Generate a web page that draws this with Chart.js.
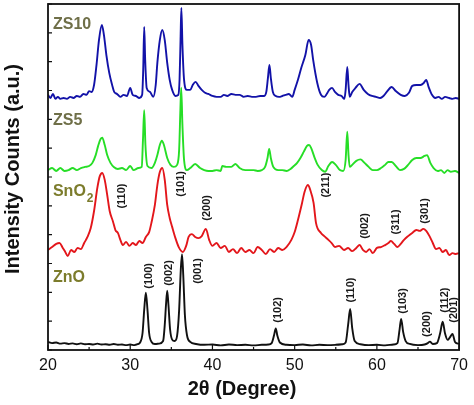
<!DOCTYPE html>
<html>
<head>
<meta charset="utf-8">
<script src="https://cdn.jsdelivr.net/npm/chart.js@4.4.1/dist/chart.umd.min.js"></script>
<style>
  html, body { margin: 0; padding: 0; background: #fff; }
  canvas { display: block; }
</style>
</head>
<body>
<canvas id="xrd" width="474" height="405"></canvas>
<script>
// XRD patterns, stacked (2theta in degrees, intensity in a.u. incl. offset)
const xTicks = [20, 30, 40, 50, 60, 70];
const xMinor = [25, 35, 45, 55, 65];
const yTicks = [0, 10, 20, 30, 40, 50, 60, 70, 80, 90, 100, 110, 120];

const zno = [[20,2.8],[20.5,2.4],[21,2.6],[21.5,2.2],[22,2.4],[22.5,2.1],[23,2.3],[23.5,2.0],[24,2.3],[24.5,2.0],[25,2.1],[25.5,1.9],[26,2.2],[26.5,1.9],[27,2.0],[27.5,1.8],[28,2.1],[28.5,1.8],[29,1.9],[29.5,1.7],[30,1.9],[30.5,1.7],[30.9,2.0],[31.2,2.6],[31.5,5.9],[31.7,13.9],[31.9,19.9],[32.1,13.9],[32.3,5.9],[32.6,2.8],[33,2.1],[33.5,2.2],[34.0,3.1],[34.2,8.7],[34.35,15.6],[34.5,20.6],[34.65,15.6],[34.85,7.1],[35.1,3.6],[35.4,3.1],[35.7,4.9],[35.95,13.9],[36.15,27.8],[36.3,33.2],[36.45,26.0],[36.65,12.1],[36.9,5.2],[37.3,2.8],[38,2.1],[39,1.8],[40,1.9],[41,1.6],[42,1.9],[43,1.7],[44,1.8],[45,1.6],[46,1.8],[46.8,1.9],[47.2,2.4],[47.5,5.2],[47.7,7.5],[47.9,4.9],[48.2,2.6],[49,1.8],[50,1.7],[51,1.9],[52,1.6],[53,1.8],[54,1.7],[55,1.8],[55.8,2.0],[56.2,2.6],[56.5,8.7],[56.75,14.2],[57.0,7.6],[57.3,3.1],[58,2.0],[59,1.7],[60,1.8],[61,1.6],[62,1.9],[62.5,2.4],[62.75,6.9],[62.95,10.8],[63.2,6.2],[63.5,3.1],[64,2.1],[65,1.7],[65.8,1.9],[66.2,2.4],[66.45,2.9],[66.8,2.1],[67.3,2.4],[67.7,5.9],[68.0,9.8],[68.3,5.6],[68.6,3.5],[68.9,4.5],[69.2,5.6],[69.5,2.8],[70,2.1]];

const sno2 = [[20,34.7],[20.5,35.7],[21,36.8],[21.4,37.1],[21.8,35.4],[22.1,34.0],[22.4,32.6],[22.8,34.7],[23.2,34.0],[23.6,35.4],[24.0,35.0],[24.4,37.1],[24.8,39.2],[25.2,42.3],[25.6,48.2],[26.0,56.2],[26.3,60.3],[26.6,61.4],[26.9,59.0],[27.2,53.8],[27.5,48.2],[27.9,44.6],[28.2,41.6],[28.5,40.6],[28.8,38.2],[29.1,36.4],[29.5,37.5],[29.9,36.1],[30.3,37.1],[30.7,36.4],[31.1,37.8],[31.5,37.1],[31.9,39.2],[32.3,40.9],[32.6,44.4],[33.0,50.3],[33.3,57.2],[33.6,61.7],[33.9,63.1],[34.2,59.0],[34.5,50.3],[34.8,45.8],[35.1,42.7],[35.5,38.8],[35.9,35.7],[36.4,34.0],[36.8,36.1],[37.1,39.2],[37.5,40.2],[37.9,39.2],[38.3,38.8],[38.7,39.5],[39.2,42.0],[39.6,38.2],[40.0,36.1],[40.5,37.1],[41.0,35.4],[41.5,36.1],[42.0,34.0],[42.5,35.0],[43.0,33.6],[43.5,35.4],[44.0,34.0],[44.5,34.7],[45.0,33.6],[45.5,35.7],[46.0,34.7],[46.5,33.3],[47.0,35.0],[47.5,34.0],[48.0,35.4],[48.5,34.7],[49.0,35.7],[49.6,38.2],[50.0,40.9],[50.4,45.1],[50.9,51.0],[51.2,54.8],[51.6,57.2],[51.9,55.5],[52.3,51.0],[52.6,44.0],[53.2,40.6],[53.6,39.5],[54.1,38.2],[54.5,37.1],[54.9,35.7],[55.4,36.1],[56.0,34.7],[56.5,35.4],[57.0,34.3],[57.5,35.4],[57.9,36.4],[58.3,34.7],[58.7,34.0],[59.1,35.0],[59.5,33.6],[60.0,35.4],[60.5,35.7],[61.0,36.4],[61.4,37.1],[61.7,37.8],[62.1,36.8],[62.5,35.7],[62.9,36.8],[63.3,38.2],[63.8,39.5],[64.3,40.6],[64.8,41.6],[65.2,41.3],[65.65,42.0],[66.0,41.3],[66.4,39.5],[66.8,37.1],[67.2,35.0],[67.6,35.4],[68.0,34.0],[68.4,34.7],[68.8,32.9],[69.2,33.6],[69.6,33.3],[70,33.6]];

const zs5 = [[20,62.4],[20.5,63.1],[21,62.1],[21.5,63.1],[22,62.1],[22.5,62.4],[23,63.1],[23.5,62.4],[24,63.1],[24.5,63.5],[25,63.8],[25.4,64.9],[25.8,67.6],[26.1,70.8],[26.4,73.2],[26.6,73.6],[26.9,71.1],[27.2,67.6],[27.6,64.9],[28.0,63.5],[28.5,62.8],[29,63.1],[29.5,62.4],[30.0,63.8],[30.4,62.4],[31.0,63.1],[31.4,63.5],[31.55,72.8],[31.7,83.2],[31.85,71.1],[32.1,63.8],[32.6,63.1],[33.0,64.9],[33.3,67.6],[33.6,71.1],[33.85,72.6],[34.1,71.1],[34.5,66.6],[34.9,64.2],[35.3,63.5],[35.7,64.2],[35.95,69.4],[36.1,83.2],[36.2,91.0],[36.35,78.0],[36.55,65.9],[36.9,62.4],[37.3,63.1],[37.9,64.5],[38.5,63.1],[39,62.4],[39.5,62.1],[40,62.1],[40.5,62.4],[41,62.1],[41.2,63.8],[41.7,63.5],[42.3,63.5],[42.8,64.5],[43.3,63.1],[44,62.4],[45,62.4],[45.5,62.1],[46,62.4],[46.4,63.5],[46.7,66.6],[46.9,69.7],[47.1,66.6],[47.4,63.5],[48,62.4],[48.5,62.4],[49,62.1],[49.5,62.8],[49.9,63.8],[50.3,64.9],[50.7,66.6],[51.1,68.7],[51.5,70.8],[51.75,71.1],[52.0,70.1],[52.4,66.9],[52.8,64.2],[53.3,62.4],[53.7,61.8],[54.1,63.8],[54.55,65.2],[55.0,64.2],[55.5,62.4],[55.9,62.1],[56.2,65.9],[56.4,75.7],[56.55,67.6],[56.7,63.5],[57.0,64.2],[57.5,65.6],[58.0,66.1],[58.5,64.9],[59.0,63.5],[59.5,62.4],[60.0,62.4],[60.5,63.1],[61.0,64.2],[61.4,65.2],[61.8,65.2],[62.3,63.8],[62.8,62.4],[63.3,62.8],[63.8,64.2],[64.3,65.9],[64.8,66.6],[65.3,66.6],[65.8,67.3],[66.1,67.6],[66.5,64.9],[66.9,63.1],[67.4,62.1],[67.8,62.4],[68.2,61.4],[68.6,62.4],[69.0,61.8],[69.5,62.1],[70,61.4]];

const zs10 = [[20,88.5],[20.3,87.4],[20.6,88.8],[20.9,87.1],[21.2,87.8],[21.5,87.1],[21.9,87.4],[22.3,87.1],[22.7,87.8],[23.1,87.4],[23.5,88.1],[23.9,87.8],[24.3,88.8],[24.7,88.5],[25.0,89.8],[25.3,89.5],[25.6,91.9],[25.9,98.9],[26.2,107.5],[26.55,112.7],[26.8,109.3],[27.1,102.3],[27.45,96.1],[27.8,91.9],[28.05,89.5],[28.4,88.8],[28.8,87.8],[29.2,88.5],[29.6,88.1],[30.0,90.9],[30.3,88.5],[30.7,88.1],[31.1,87.4],[31.45,88.5],[31.58,97.1],[31.7,112.0],[31.82,100.6],[32.0,90.9],[32.4,89.5],[32.8,87.8],[33.1,91.9],[33.3,99.6],[33.6,107.5],[33.9,111.0],[34.2,107.5],[34.5,99.6],[34.8,93.7],[35.1,90.2],[35.5,88.1],[35.85,88.5],[36.0,93.7],[36.12,107.5],[36.22,118.6],[36.35,105.8],[36.55,93.7],[36.9,90.2],[37.3,90.2],[37.6,91.9],[37.95,93.0],[38.3,91.6],[38.7,90.2],[39.1,89.2],[39.5,88.8],[40.0,88.1],[40.5,87.8],[41.0,87.8],[41.4,88.5],[41.8,88.1],[42.3,88.8],[42.8,88.5],[43.3,88.5],[43.8,87.8],[44.3,88.1],[44.8,87.8],[45.3,87.8],[45.8,88.1],[46.3,88.1],[46.55,89.5],[46.75,94.4],[46.93,98.9],[47.1,94.4],[47.35,89.5],[47.7,88.1],[48.1,87.8],[48.5,88.1],[48.9,88.5],[49.3,88.8],[49.7,87.8],[50.0,90.2],[50.4,93.7],[50.8,97.8],[51.3,102.3],[51.7,107.5],[52.0,105.8],[52.25,100.6],[52.75,92.6],[53.2,88.5],[53.6,87.8],[53.9,88.8],[54.2,90.2],[54.55,90.9],[54.9,89.5],[55.3,88.5],[55.7,88.1],[56.05,87.1],[56.2,90.2],[56.4,98.2],[56.55,91.9],[56.7,87.8],[57.0,89.5],[57.4,90.9],[57.9,92.3],[58.4,90.2],[58.9,88.8],[59.4,88.1],[59.9,87.8],[60.4,87.4],[60.8,88.1],[61.2,89.5],[61.8,91.2],[62.3,89.8],[62.9,88.5],[63.4,88.1],[63.9,89.2],[64.3,91.6],[64.8,91.9],[65.3,91.9],[65.7,92.6],[66.0,93.7],[66.3,91.2],[66.7,88.5],[67.1,87.4],[67.5,87.8],[67.9,87.1],[68.3,87.8],[68.8,87.4],[69.2,87.1],[69.6,87.4],[70,87.1]];

// sample names, anchored at (2theta, intensity)
const sampleNames = ['ZS10', 'ZS5', 'SnO', 'ZnO'];
const sampleAnchors = [[20.6, 112.7], [20.6, 79.4], [20.6, 55.0], [20.6, 25.0]];

// Miller indices, centred at (2theta, intensity)
const hklLabels = ['(100)', '(002)', '(001)', '(102)', '(110)', '(103)', '(200)', '(112)', '(201)',
                   '(110)', '(101)', '(200)', '(211)', '(002)', '(311)', '(301)'];
const hklAnchors = [[32.3, 25.7], [34.73, 26.7], [38.24, 27.4], [48.02, 13.9], [56.84, 20.8], [63.12, 17.0],
                    [66.14, 9.0], [68.31, 17.3], [69.4, 13.9],
                    [28.94, 53.4], [36.18, 57.6], [39.32, 49.3], [53.82, 57.2], [58.53, 43.0], [62.27, 44.4], [65.89, 48.2]];

const FONT = "'Liberation Sans', Arial, sans-serif";
const toXY = arr => arr.map(p => ({ x: p[0], y: p[1] }));

const decor = {
  id: 'decor',
  afterDraw(chart) {
    const { ctx, chartArea: a, scales: { x, y } } = chart;
    ctx.save();
    ctx.strokeStyle = '#111';
    ctx.lineWidth = 1.2;
    ctx.beginPath();
    xTicks.forEach(v => { const px = x.getPixelForValue(v); ctx.moveTo(px, a.bottom); ctx.lineTo(px, a.bottom - 5); });
    xMinor.forEach(v => { const px = x.getPixelForValue(v); ctx.moveTo(px, a.bottom); ctx.lineTo(px, a.bottom - 3); });
    yTicks.forEach(v => { const py = y.getPixelForValue(v); ctx.moveTo(a.left, py); ctx.lineTo(a.left + 4, py); });
    ctx.stroke();

    ctx.lineWidth = 1.8;
    ctx.strokeRect(a.left, a.top, a.right - a.left, a.bottom - a.top);

    // sample names
    ctx.font = 'bold 16px ' + FONT;
    ctx.textBaseline = 'middle';
    ctx.textAlign = 'left';
    sampleNames.forEach((n, i) => {
      const px = x.getPixelForValue(sampleAnchors[i][0]);
      const py = y.getPixelForValue(sampleAnchors[i][1]);
      ctx.fillStyle = i < 2 ? '#6f6f48' : '#7c7c2c';
      ctx.fillText(n, px, py);
      if (n === 'SnO') {
        const w = ctx.measureText(n).width;
        ctx.font = 'bold 12px ' + FONT;
        ctx.fillText('2', px + w + 1, py + 7);
        ctx.font = 'bold 16px ' + FONT;
      }
    });

    // hkl labels
    ctx.font = 'bold 11px ' + FONT;
    ctx.fillStyle = '#1a1a1a';
    ctx.textAlign = 'center';
    hklLabels.forEach((t, i) => {
      const px = x.getPixelForValue(hklAnchors[i][0]);
      const py = y.getPixelForValue(hklAnchors[i][1]);
      ctx.save();
      ctx.translate(px, py);
      ctx.rotate(-Math.PI / 2);
      ctx.fillText(t, 0, 0);
      ctx.restore();
    });

    // axis titles
    ctx.fillStyle = '#111';
    ctx.font = 'bold 20px ' + FONT;
    ctx.fillText('2\u03B8 (Degree)', 242, 389);
    ctx.save();
    ctx.translate(13, 169);
    ctx.rotate(-Math.PI / 2);
    ctx.fillText('Intensity Counts (a.u.)', 0, 0);
    ctx.restore();
    ctx.restore();
  }
};

const line = (data, color) => ({
  data: toXY(data),
  borderColor: color,
  borderWidth: 1.9,
  pointRadius: 0,
  cubicInterpolationMode: 'monotone',
  fill: false
});

new Chart(document.getElementById('xrd'), {
  type: 'line',
  data: {
    datasets: [
      line(zno, '#111111'),
      line(sno2, '#e3161b'),
      line(zs5, '#26de26'),
      line(zs10, '#1212a8')
    ]
  },
  options: {
    responsive: false,
    animation: false,
    events: [],
    layout: { padding: { top: 4, right: 12, left: 0, bottom: 0 } },
    plugins: { legend: { display: false }, tooltip: { enabled: false } },
    scales: {
      x: {
        type: 'linear', min: 20, max: 70,
        afterFit: s => { s.height = 55; },
        afterBuildTicks: s => { s.ticks = xTicks.map(v => ({ value: v })); },
        grid: { display: false, drawTicks: false },
        border: { display: false },
        ticks: { padding: 6, color: '#111', font: { family: FONT, size: 16 }, maxRotation: 0 }
      },
      y: {
        min: 0, max: 120,
        afterFit: s => { s.width = 48; },
        grid: { display: false, drawTicks: false },
        border: { display: false },
        ticks: { display: false }
      }
    }
  },
  plugins: [decor]
});
</script>
</body>
</html>
